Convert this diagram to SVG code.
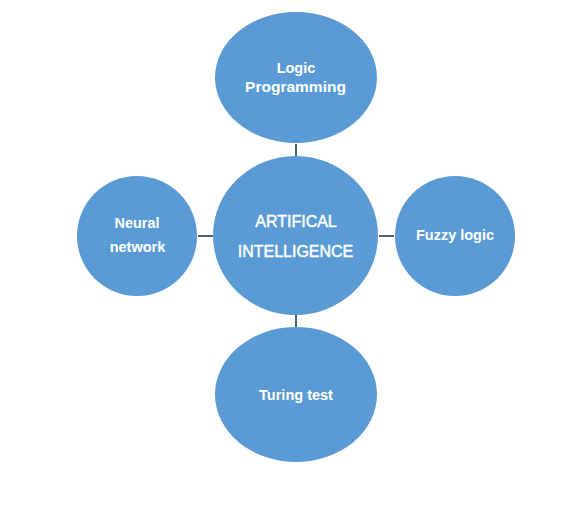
<svg xmlns="http://www.w3.org/2000/svg" width="576" height="507" viewBox="0 0 576 507">
<style>
.node{fill:#5b9bd5;}
.lbl{font-family:"Liberation Sans",Arial,sans-serif;font-weight:bold;font-size:14.5px;fill:#ffffff;text-anchor:middle;}
.big{font-family:"Liberation Sans",Arial,sans-serif;font-size:16px;fill:#ffffff;stroke:#ffffff;stroke-width:0.45;text-anchor:middle;}
.conn{stroke:#4f6273;stroke-width:2;fill:none;}
</style>
<rect width="576" height="507" fill="#ffffff"/>
<g id="connectors">
<line class="conn" x1="296" y1="144" x2="296" y2="156"/>
<line class="conn" x1="296" y1="315" x2="296" y2="327"/>
<line class="conn" x1="198" y1="236" x2="213" y2="236"/>
<line class="conn" x1="379" y1="236" x2="394" y2="236"/>
</g>
<g id="logic-programming">
<ellipse class="node" cx="296" cy="77.5" rx="81" ry="65.5"/>
<text class="lbl" x="296" y="73">Logic</text>
<text class="lbl" x="295.5" y="92" style="font-size:15.5px">Programming</text>
</g>
<g id="artificial-intelligence">
<ellipse class="node" cx="295.5" cy="235.5" rx="82.5" ry="79.5"/>
<text class="big" x="296" y="227">ARTIFICAL</text>
<text class="big" x="295.5" y="257">INTELLIGENCE</text>
</g>
<g id="neural-network">
<ellipse class="node" cx="137" cy="236" rx="60" ry="60"/>
<text class="lbl" x="137" y="228">Neural</text>
<text class="lbl" x="137.5" y="252">network</text>
</g>
<g id="fuzzy-logic">
<ellipse class="node" cx="455" cy="236" rx="60" ry="60"/>
<text class="lbl" x="455" y="240">Fuzzy logic</text>
</g>
<g id="turing-test">
<ellipse class="node" cx="296" cy="394.5" rx="81" ry="67.5"/>
<text class="lbl" x="296" y="400">Turing test</text>
</g>
</svg>
